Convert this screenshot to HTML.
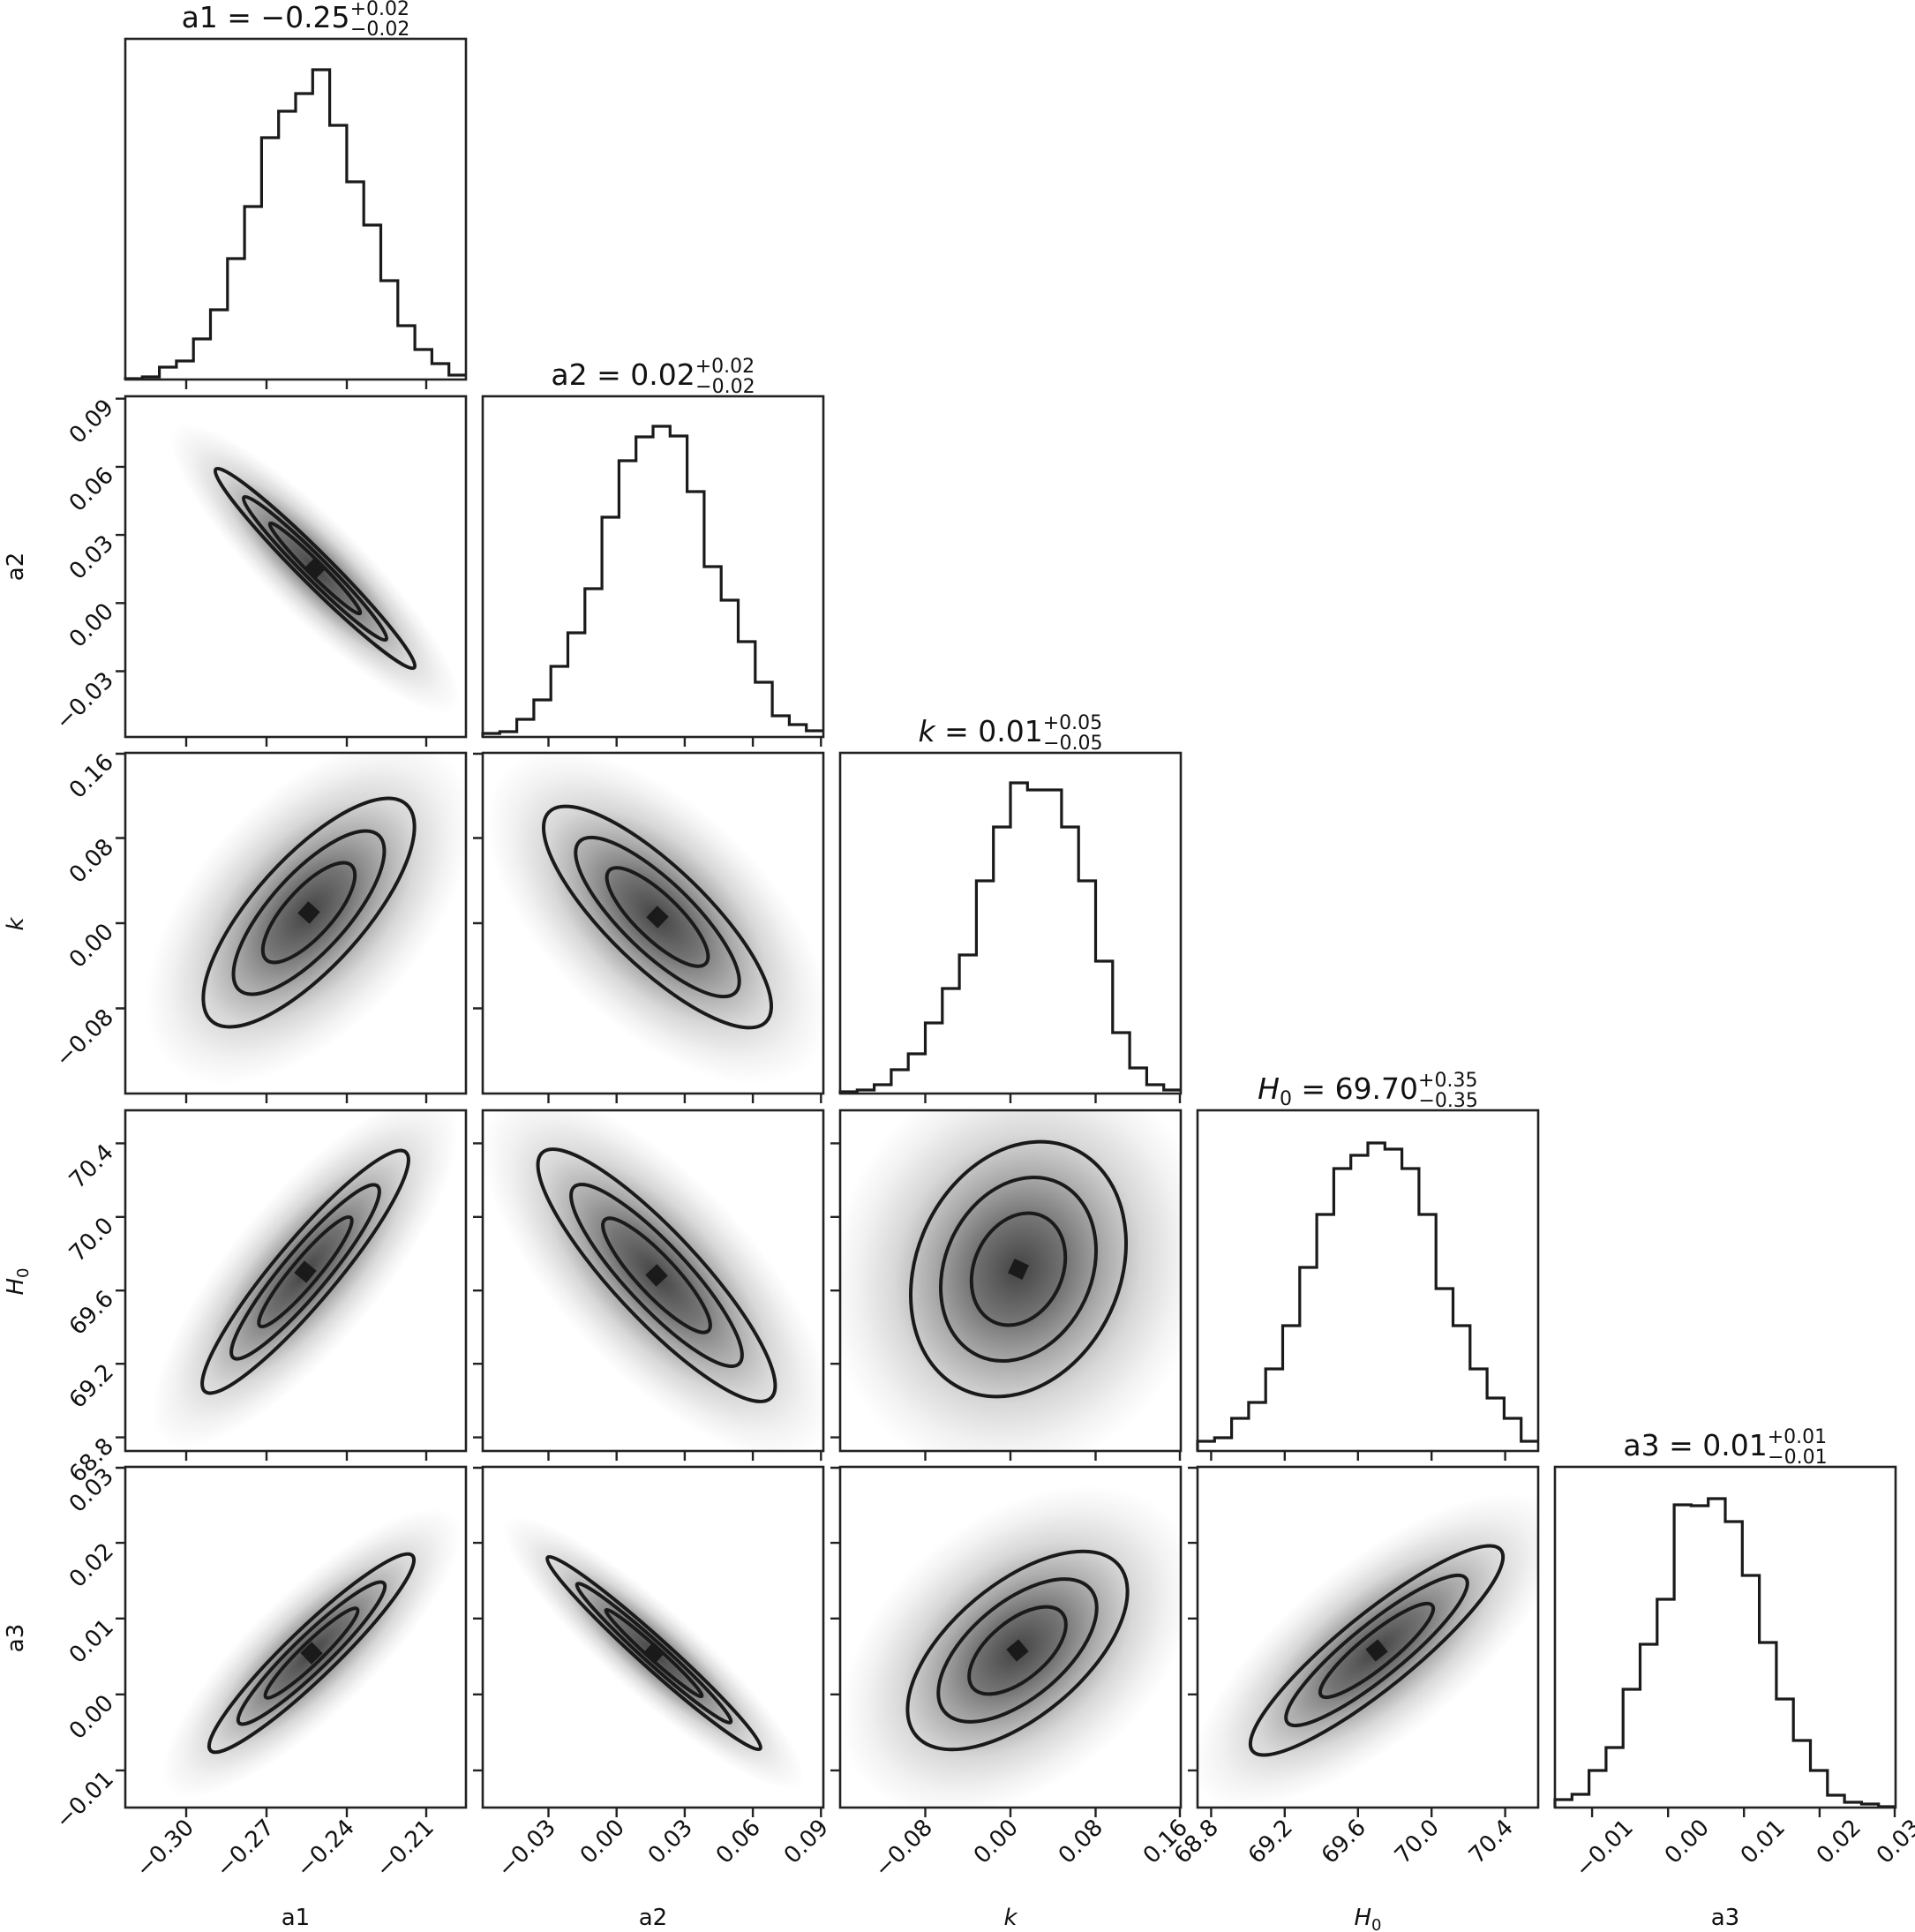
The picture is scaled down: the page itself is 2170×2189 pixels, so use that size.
<!DOCTYPE html>
<html><head><meta charset="utf-8"><style>
html,body{margin:0;padding:0;background:#fff}
svg{display:block}
text{font-family:"DejaVu Sans","Liberation Sans",sans-serif;fill:#111}
.f{fill:none;stroke:#222;stroke-width:2.6}
.h{fill:none;stroke:#1a1a1a;stroke-width:3.2}
.c{fill:none;stroke:#1a1a1a;stroke-width:4}
.t{stroke:#222;stroke-width:2.4}
.tl{font-size:26px}
</style></head><body>
<svg width="2170" height="2189" viewBox="0 0 2170 2189" xmlns="http://www.w3.org/2000/svg">
<defs>
<clipPath id="cp"><rect x="0" y="0" width="386" height="386"/></clipPath>
<radialGradient id="g">
<stop offset="0" stop-color="#444"/>
<stop offset="0.25" stop-color="#747474"/>
<stop offset="0.45" stop-color="#aaaaaa"/>
<stop offset="0.65" stop-color="#d8d8d8"/>
<stop offset="0.85" stop-color="#f2f2f2"/>
<stop offset="1" stop-color="#ffffff"/>
</radialGradient>
</defs>

<!-- a1 -->
<g transform="translate(142,44)">
<path class="h" d="M0,386 V385 H19.3 V383 H38.6 V372 H57.9 V365 H77.2 V340 H96.5 V307 H115.8 V249 H135.1 V190 H154.4 V112 H173.7 V82 H193 V62 H212.3 V35 H231.6 V98 H250.9 V162 H270.2 V211 H289.5 V274 H308.8 V325 H328.1 V352 H347.4 V368 H366.7 V381 H386"/>
<rect class="f" x="0" y="0" width="386" height="386"/>
<g class="t"><line x1="69" y1="386" x2="69" y2="397"/><line x1="160" y1="386" x2="160" y2="397"/><line x1="251" y1="386" x2="251" y2="397"/><line x1="341" y1="386" x2="341" y2="397"/></g>
</g>
<text x="335" y="31" text-anchor="middle" font-size="33">a1 = −0.25<tspan font-size="22" dy="-14">+0.02</tspan><tspan font-size="22" dx="-67" dy="23">−0.02</tspan></text>

<!-- a2 -->
<g transform="translate(547,449)">
<path class="h" d="M0,386 V382 H19.3 V380 H38.6 V366 H57.9 V344 H77.2 V306 H96.5 V268 H115.8 V218 H135.1 V137 H154.4 V73 H173.7 V46 H193 V34 H212.3 V45 H231.6 V108 H250.9 V193 H270.2 V231 H289.5 V278 H308.8 V324 H328.1 V362 H347.4 V372 H366.7 V379 H386"/>
<rect class="f" x="0" y="0" width="386" height="386"/>
<g class="t"><line x1="74.5" y1="386" x2="74.5" y2="397"/><line x1="151.7" y1="386" x2="151.7" y2="397"/><line x1="228.9" y1="386" x2="228.9" y2="397"/><line x1="306.1" y1="386" x2="306.1" y2="397"/><line x1="383.3" y1="386" x2="383.3" y2="397"/></g>
</g>
<text x="740" y="436" text-anchor="middle" font-size="33">a2 = 0.02<tspan font-size="22" dy="-14">+0.02</tspan><tspan font-size="22" dx="-67" dy="23">−0.02</tspan></text>

<!-- k -->
<g transform="translate(952,853)">
<path class="h" d="M0,386 V384 H19.3 V382 H38.6 V376 H57.9 V359 H77.2 V341 H96.5 V306 H115.8 V267 H135.1 V229 H154.4 V145 H173.7 V84 H193 V34 H212.3 V42 H231.6 V42 H250.9 V84 H270.2 V145 H289.5 V236 H308.8 V317 H328.1 V357 H347.4 V376 H366.7 V382 H386"/>
<rect class="f" x="0" y="0" width="386" height="386"/>
<g class="t"><line x1="96.5" y1="386" x2="96.5" y2="397"/><line x1="193" y1="386" x2="193" y2="397"/><line x1="289.5" y1="386" x2="289.5" y2="397"/><line x1="385" y1="386" x2="385" y2="397"/></g>
</g>
<text x="1145" y="840" text-anchor="middle" font-size="33"><tspan font-style="italic">k</tspan> = 0.01<tspan font-size="22" dy="-14">+0.05</tspan><tspan font-size="22" dx="-67" dy="23">−0.05</tspan></text>

<!-- H0 -->
<g transform="translate(1357,1258)">
<path class="h" d="M0,386 V375 H19.3 V371 H38.6 V349 H57.9 V331 H77.2 V293 H96.5 V244 H115.8 V178 H135.1 V118 H154.4 V66 H173.7 V51 H193 V37 H212.3 V44 H231.6 V66 H250.9 V118 H270.2 V202 H289.5 V244 H308.8 V293 H328.1 V326 H347.4 V349 H366.7 V375 H386"/>
<rect class="f" x="0" y="0" width="386" height="386"/>
<g class="t"><line x1="15.4" y1="386" x2="15.4" y2="397"/><line x1="98.8" y1="386" x2="98.8" y2="397"/><line x1="181.8" y1="386" x2="181.8" y2="397"/><line x1="265.2" y1="386" x2="265.2" y2="397"/><line x1="348.6" y1="386" x2="348.6" y2="397"/></g>
</g>
<text x="1550" y="1245" text-anchor="middle" font-size="33"><tspan font-style="italic">H</tspan><tspan font-size="22" dy="7">0</tspan><tspan dy="-7"> = 69.70</tspan><tspan font-size="22" dy="-14">+0.35</tspan><tspan font-size="22" dx="-67" dy="23">−0.35</tspan></text>

<!-- a3 -->
<g transform="translate(1762,1662)">
<path class="h" d="M0,386 V377 H19.3 V371 H38.6 V344 H57.9 V318 H77.2 V252 H96.5 V201 H115.8 V150 H135.1 V43 H154.4 V44 H173.7 V36 H193 V62 H212.3 V123 H231.6 V199 H250.9 V263 H270.2 V310 H289.5 V344 H308.8 V372 H328.1 V380 H347.4 V382 H366.7 V385 H386"/>
<rect class="f" x="0" y="0" width="386" height="386"/>
<g class="t"><line x1="42.1" y1="386" x2="42.1" y2="397"/><line x1="128.2" y1="386" x2="128.2" y2="397"/><line x1="214.2" y1="386" x2="214.2" y2="397"/><line x1="299.9" y1="386" x2="299.9" y2="397"/><line x1="385" y1="386" x2="385" y2="397"/></g>
</g>
<text x="1955" y="1649" text-anchor="middle" font-size="33">a3 = 0.01<tspan font-size="22" dy="-14">+0.01</tspan><tspan font-size="22" dx="-67" dy="23">−0.01</tspan></text>

<!-- 2D panels -->
<g transform="translate(142,449)">
<g clip-path="url(#cp)"><g transform="translate(215,195) rotate(45)">
<ellipse rx="225" ry="55" fill="url(#g)"/>
<ellipse class="c" rx="159" ry="18"/><ellipse class="c" rx="114" ry="13"/><ellipse class="c" rx="72" ry="8"/>
<rect x="-9" y="-9" width="18" height="18" fill="#1a1a1a"/></g></g>
<rect class="f" x="0" y="0" width="386" height="386"/>
</g>
<g transform="translate(142,853)">
<g clip-path="url(#cp)"><g transform="translate(208,181) rotate(-48)">
<ellipse rx="235" ry="130" fill="url(#g)"/>
<ellipse class="c" rx="165" ry="62"/><ellipse class="c" rx="118" ry="44"/><ellipse class="c" rx="72" ry="27"/>
<rect x="-9" y="-9" width="18" height="18" fill="#1a1a1a"/></g></g>
<rect class="f" x="0" y="0" width="386" height="386"/>
</g>
<g transform="translate(142,1258)">
<g clip-path="url(#cp)"><g transform="translate(204,183) rotate(-50)">
<ellipse rx="250" ry="85" fill="url(#g)"/>
<ellipse class="c" rx="177" ry="35"/><ellipse class="c" rx="127" ry="25"/><ellipse class="c" rx="80" ry="15"/>
<rect x="-9" y="-9" width="18" height="18" fill="#1a1a1a"/></g></g>
<rect class="f" x="0" y="0" width="386" height="386"/>
</g>
<g transform="translate(142,1662)">
<g clip-path="url(#cp)"><g transform="translate(211,211) rotate(-44)">
<ellipse rx="225" ry="70" fill="url(#g)"/>
<ellipse class="c" rx="159" ry="28"/><ellipse class="c" rx="114" ry="20"/><ellipse class="c" rx="72" ry="12"/>
<rect x="-9" y="-9" width="18" height="18" fill="#1a1a1a"/></g></g>
<rect class="f" x="0" y="0" width="386" height="386"/>
</g>
<g transform="translate(547,853)">
<g clip-path="url(#cp)"><g transform="translate(198,186) rotate(44)">
<ellipse rx="240" ry="125" fill="url(#g)"/>
<ellipse class="c" rx="171" ry="56"/><ellipse class="c" rx="123" ry="40"/><ellipse class="c" rx="76" ry="25"/>
<rect x="-9" y="-9" width="18" height="18" fill="#1a1a1a"/></g></g>
<rect class="f" x="0" y="0" width="386" height="386"/>
</g>
<g transform="translate(547,1258)">
<g clip-path="url(#cp)"><g transform="translate(197,187) rotate(47)">
<ellipse rx="265" ry="110" fill="url(#g)"/>
<ellipse class="c" rx="190" ry="49"/><ellipse class="c" rx="137" ry="35"/><ellipse class="c" rx="86" ry="22"/>
<rect x="-9" y="-9" width="18" height="18" fill="#1a1a1a"/></g></g>
<rect class="f" x="0" y="0" width="386" height="386"/>
</g>
<g transform="translate(547,1662)">
<g clip-path="url(#cp)"><g transform="translate(194,211) rotate(42)">
<ellipse rx="225" ry="50" fill="url(#g)"/>
<ellipse class="c" rx="162" ry="17"/><ellipse class="c" rx="117" ry="12"/><ellipse class="c" rx="73" ry="7"/>
<rect x="-9" y="-9" width="18" height="18" fill="#1a1a1a"/></g></g>
<rect class="f" x="0" y="0" width="386" height="386"/>
</g>
<g transform="translate(952,1258)">
<g clip-path="url(#cp)"><g transform="translate(202,180) rotate(-65)">
<ellipse rx="240" ry="210" fill="url(#g)"/>
<ellipse class="c" rx="150" ry="115"/><ellipse class="c" rx="108" ry="83"/><ellipse class="c" rx="66" ry="50"/>
<rect x="-9" y="-9" width="18" height="18" fill="#1a1a1a"/></g></g>
<rect class="f" x="0" y="0" width="386" height="386"/>
</g>
<g transform="translate(952,1662)">
<g clip-path="url(#cp)"><g transform="translate(201,208) rotate(-40)">
<ellipse rx="230" ry="150" fill="url(#g)"/>
<ellipse class="c" rx="150" ry="75"/><ellipse class="c" rx="108" ry="54"/><ellipse class="c" rx="66" ry="33"/>
<rect x="-9" y="-9" width="18" height="18" fill="#1a1a1a"/></g></g>
<rect class="f" x="0" y="0" width="386" height="386"/>
</g>
<g transform="translate(1357,1662)">
<g clip-path="url(#cp)"><g transform="translate(203,208) rotate(-39)">
<ellipse rx="255" ry="100" fill="url(#g)"/>
<ellipse class="c" rx="181" ry="42"/><ellipse class="c" rx="130" ry="30"/><ellipse class="c" rx="81" ry="19"/>
<rect x="-9" y="-9" width="18" height="18" fill="#1a1a1a"/></g></g>
<rect class="f" x="0" y="0" width="386" height="386"/>
</g>

<g class="t">
<path d="M211,835v11 M302,835v11 M393,835v11 M483,835v11 M211,1239v11 M302,1239v11 M393,1239v11 M483,1239v11 M211,1644v11 M302,1644v11 M393,1644v11 M483,1644v11 M211,2048v11 M302,2048v11 M393,2048v11 M483,2048v11"/>
<path d="M621.5,1239v11 M698.7,1239v11 M775.9,1239v11 M853.1,1239v11 M930.3,1239v11 M621.5,1644v11 M698.7,1644v11 M775.9,1644v11 M853.1,1644v11 M930.3,1644v11 M621.5,2048v11 M698.7,2048v11 M775.9,2048v11 M853.1,2048v11 M930.3,2048v11"/>
<path d="M1048.5,1644v11 M1145,1644v11 M1241.5,1644v11 M1337,1644v11 M1048.5,2048v11 M1145,2048v11 M1241.5,2048v11 M1337,2048v11"/>
<path d="M1372.4,2048v11 M1455.8,2048v11 M1538.8,2048v11 M1622.2,2048v11 M1705.6,2048v11"/>
<path d="M142,451.7h-11 M142,528.9h-11 M142,606.1h-11 M142,683.3h-11 M142,760.5h-11"/>
<path d="M142,854h-11 M142,949.5h-11 M142,1046h-11 M142,1142.5h-11 M547,854h-11 M547,949.5h-11 M547,1046h-11 M547,1142.5h-11"/>
<path d="M142,1295.4h-11 M142,1378.8h-11 M142,1462.2h-11 M142,1545.2h-11 M142,1628.6h-11 M547,1295.4h-11 M547,1378.8h-11 M547,1462.2h-11 M547,1545.2h-11 M547,1628.6h-11 M952,1295.4h-11 M952,1378.8h-11 M952,1462.2h-11 M952,1545.2h-11 M952,1628.6h-11"/>
<path d="M142,1663h-11 M142,1748.1h-11 M142,1833.8h-11 M142,1919.8h-11 M142,2005.9h-11 M547,1663h-11 M547,1748.1h-11 M547,1833.8h-11 M547,1919.8h-11 M547,2005.9h-11 M952,1663h-11 M952,1748.1h-11 M952,1833.8h-11 M952,1919.8h-11 M952,2005.9h-11 M1357,1663h-11 M1357,1748.1h-11 M1357,1833.8h-11 M1357,1919.8h-11 M1357,2005.9h-11"/>
</g>

<g class="tl" text-anchor="end">
<text transform="translate(130,463) rotate(-45)">0.09</text>
<text transform="translate(130,540) rotate(-45)">0.06</text>
<text transform="translate(130,617) rotate(-45)">0.03</text>
<text transform="translate(130,694) rotate(-45)">0.00</text>
<text transform="translate(130,772) rotate(-45)">−0.03</text>

<text transform="translate(130,865) rotate(-45)">0.16</text>
<text transform="translate(130,961) rotate(-45)">0.08</text>
<text transform="translate(130,1057) rotate(-45)">0.00</text>
<text transform="translate(130,1154) rotate(-45)">−0.08</text>

<text transform="translate(130,1307) rotate(-45)">70.4</text>
<text transform="translate(130,1390) rotate(-45)">70.0</text>
<text transform="translate(130,1473) rotate(-45)">69.6</text>
<text transform="translate(130,1556) rotate(-45)">69.2</text>
<text transform="translate(130,1640) rotate(-45)">68.8</text>

<text transform="translate(130,1674) rotate(-45)">0.03</text>
<text transform="translate(130,1759) rotate(-45)">0.02</text>
<text transform="translate(130,1845) rotate(-45)">0.01</text>
<text transform="translate(130,1931) rotate(-45)">0.00</text>
<text transform="translate(130,2017) rotate(-45)">−0.01</text>
</g>

<g class="tl" text-anchor="end">
<text transform="translate(221,2072) rotate(-45)">−0.30</text>
<text transform="translate(312,2072) rotate(-45)">−0.27</text>
<text transform="translate(403,2072) rotate(-45)">−0.24</text>
<text transform="translate(493,2072) rotate(-45)">−0.21</text>

<text transform="translate(631,2072) rotate(-45)">−0.03</text>
<text transform="translate(709,2072) rotate(-45)">0.00</text>
<text transform="translate(786,2072) rotate(-45)">0.03</text>
<text transform="translate(863,2072) rotate(-45)">0.06</text>
<text transform="translate(940,2072) rotate(-45)">0.09</text>

<text transform="translate(1058,2072) rotate(-45)">−0.08</text>
<text transform="translate(1155,2072) rotate(-45)">0.00</text>
<text transform="translate(1251,2072) rotate(-45)">0.08</text>
<text transform="translate(1347,2072) rotate(-45)">0.16</text>

<text transform="translate(1382,2072) rotate(-45)">68.8</text>
<text transform="translate(1466,2072) rotate(-45)">69.2</text>
<text transform="translate(1549,2072) rotate(-45)">69.6</text>
<text transform="translate(1632,2072) rotate(-45)">70.0</text>
<text transform="translate(1716,2072) rotate(-45)">70.4</text>

<text transform="translate(1852,2072) rotate(-45)">−0.01</text>
<text transform="translate(1938,2072) rotate(-45)">0.00</text>
<text transform="translate(2024,2072) rotate(-45)">0.01</text>
<text transform="translate(2110,2072) rotate(-45)">0.02</text>
<text transform="translate(2178,2072) rotate(-45)">0.03</text>
</g>

<g font-size="26" text-anchor="middle">
<text x="335" y="2181">a1</text>
<text x="740" y="2181">a2</text>
<text x="1145" y="2181" font-style="italic">k</text>
<text x="1550" y="2181"><tspan font-style="italic">H</tspan><tspan font-size="18" dy="6">0</tspan></text>
<text x="1955" y="2181">a3</text>
<text transform="translate(26,642) rotate(-90)">a2</text>
<text transform="translate(26,1047) rotate(-90)" font-style="italic">k</text>
<text transform="translate(26,1452) rotate(-90)"><tspan font-style="italic">H</tspan><tspan font-size="18" dy="6">0</tspan></text>
<text transform="translate(26,1856) rotate(-90)">a3</text>
</g>
</svg>
</body></html>
